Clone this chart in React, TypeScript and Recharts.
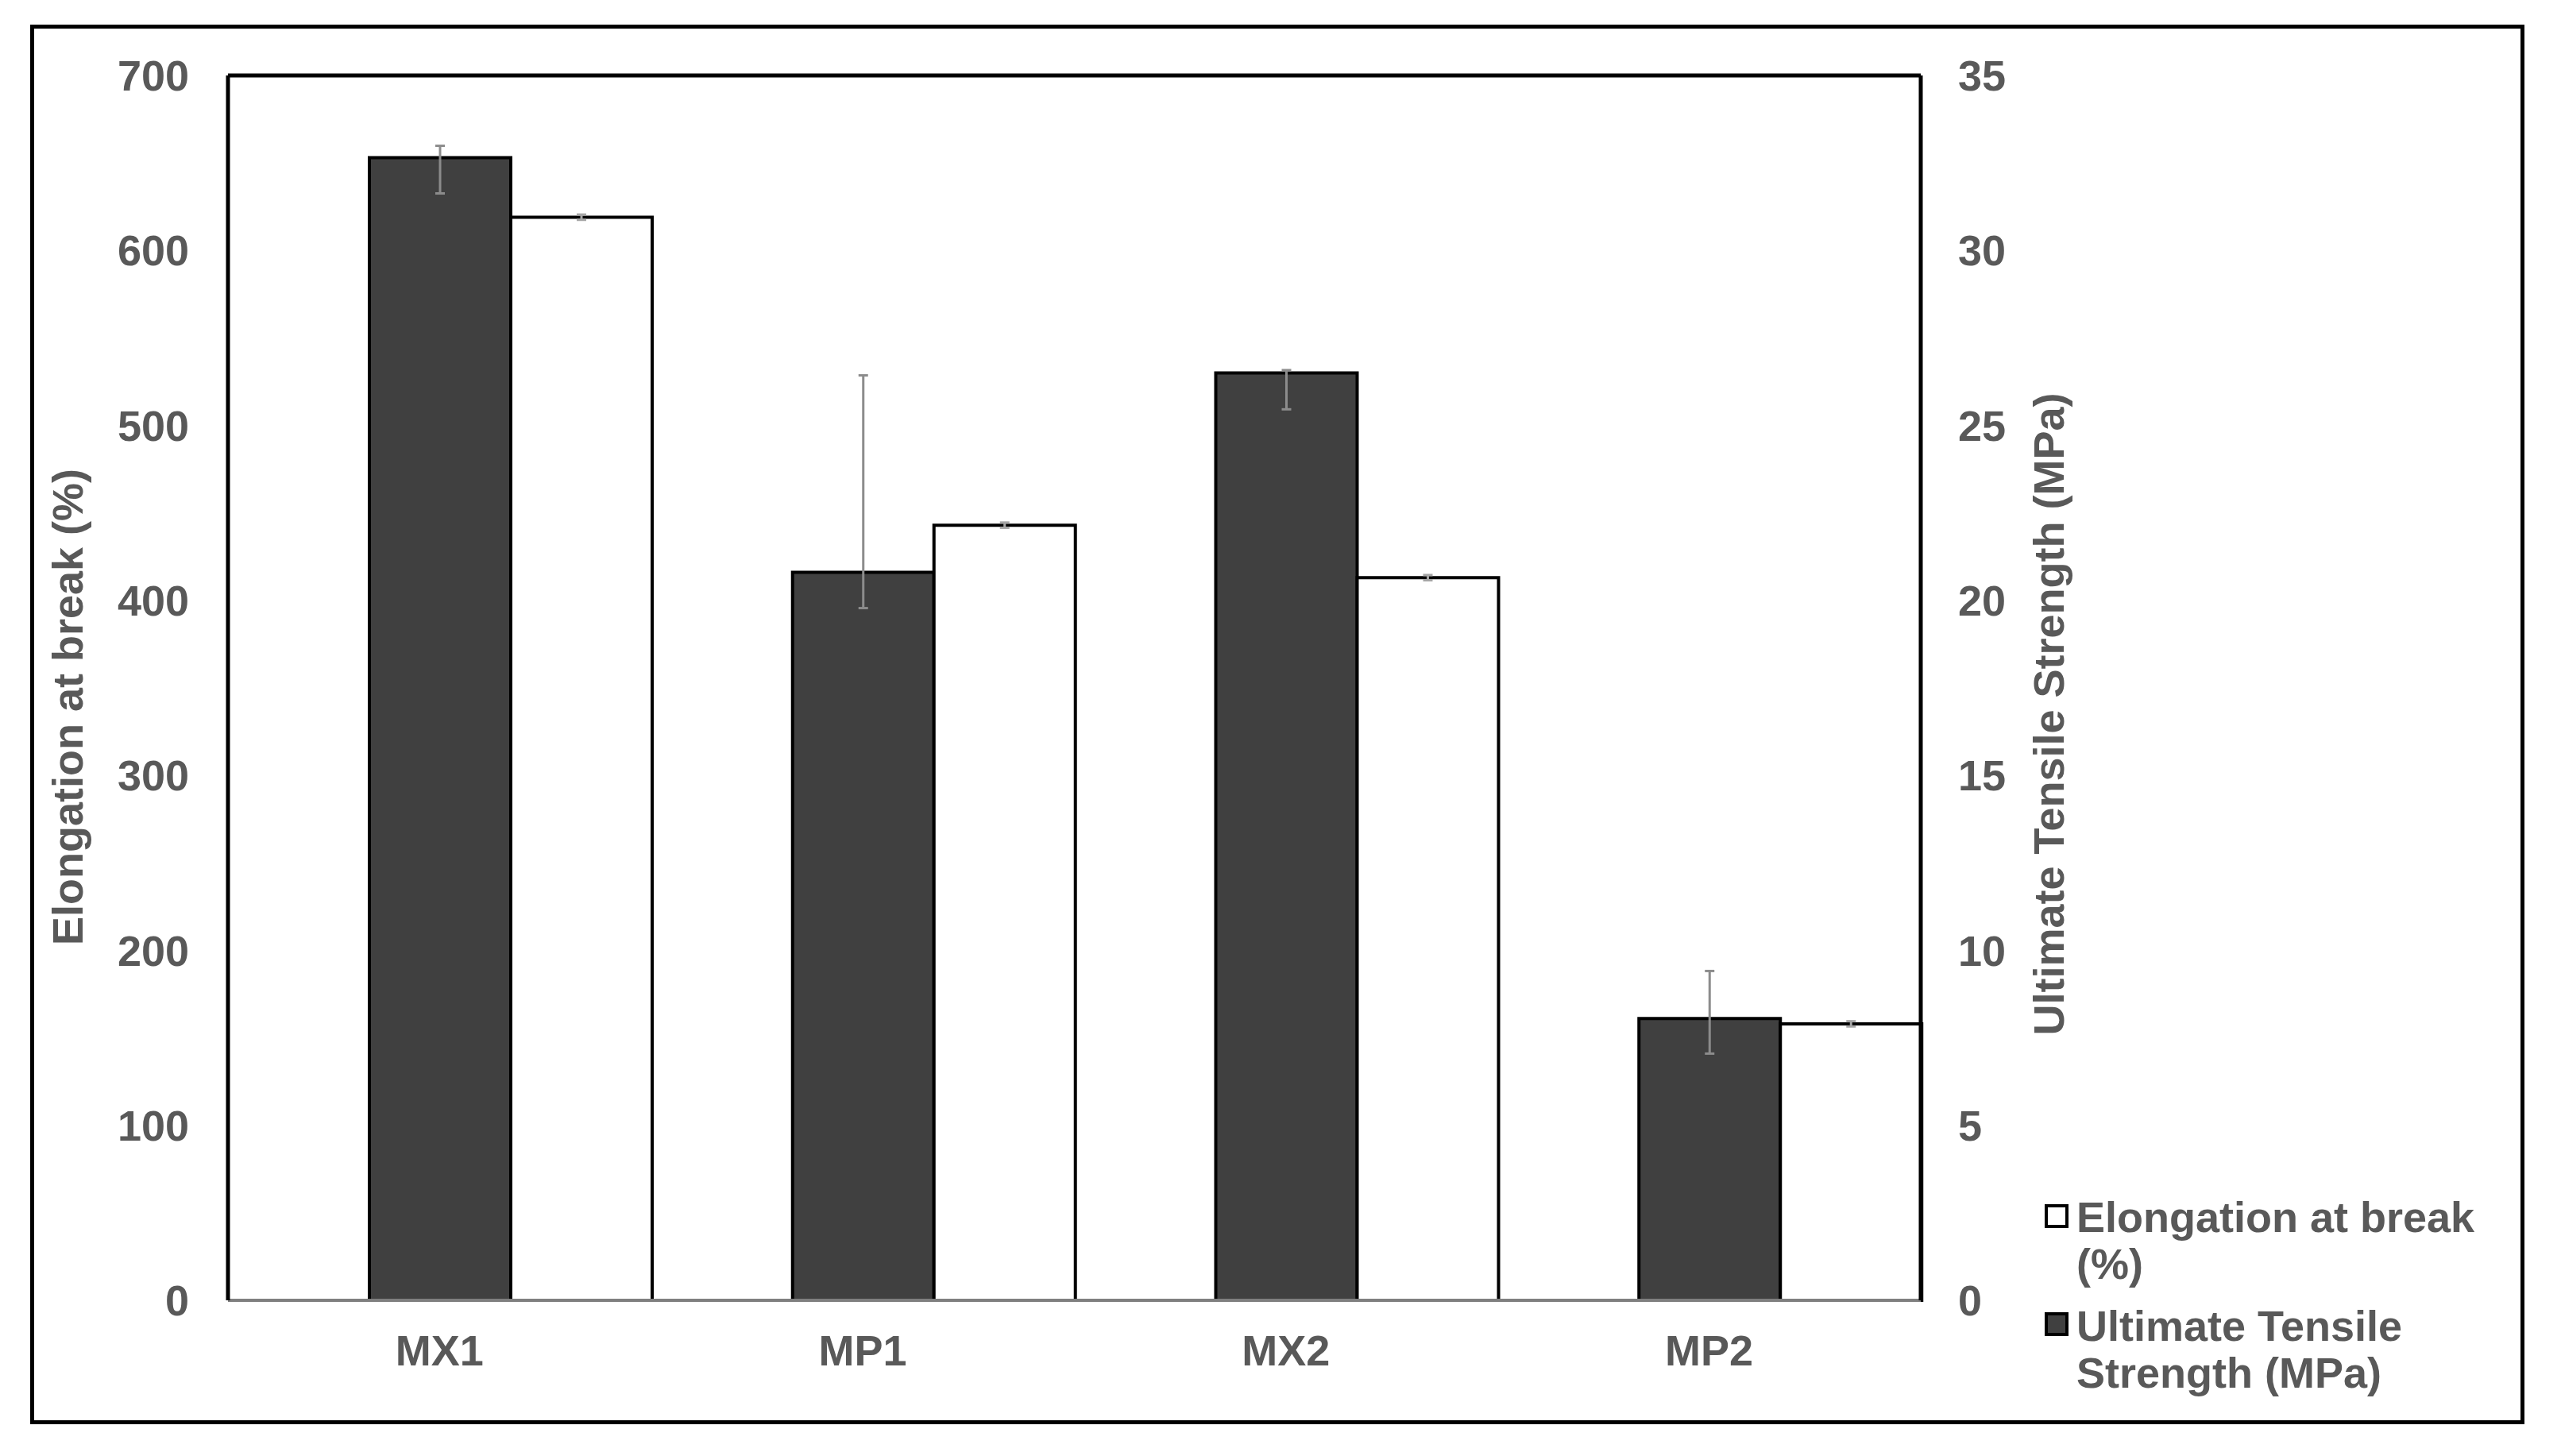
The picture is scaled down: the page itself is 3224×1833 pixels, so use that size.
import React from 'react';
import { BarChart, Bar, XAxis, YAxis, ErrorBar, ReferenceLine, Label } from 'recharts';

const categories = ['MX1', 'MP1', 'MX2', 'MP2'];
const elongation = [619, 443, 413, 158];
const elongationErr = [1.5, 1.5, 1.5, 1.5];
const uts = [32.65, 20.8, 26.5, 8.05];
const utsErrDown = [1.02, 1.02, 1.04, 1.0];
const utsErrUp = [0.34, 5.63, 0.08, 1.36];
const leftTicks = [0, 100, 200, 300, 400, 500, 600, 700];
const rightTicks = [0, 5, 10, 15, 20, 25, 30, 35];

const data = categories.map((name, i) => ({
    name,
    gap: null,
    uts: uts[i],
    utsErr: [utsErrDown[i], utsErrUp[i]],
    elongation: elongation[i],
    elongationErr: elongationErr[i],
}));

const TEXT = '#595959';
const FONT = '"Liberation Sans", Arial, sans-serif';
const tickStyle = { fill: TEXT, fontSize: 54, fontWeight: 700, fontFamily: FONT };

const AxisTitle = ({ viewBox, text, dx, dy }: any) => {
    const vb = viewBox || { x: 0, y: 0, width: 0, height: 0 };
    const x = vb.x + dx;
    const y = vb.y + vb.height / 2 + dy;
    return (
        <text
            x={x}
            y={y}
            transform={`rotate(-90, ${x}, ${y})`}
            textAnchor="middle"
            fill={TEXT}
            fontSize={54}
            fontWeight={700}
            fontFamily={FONT}
        >
            {text}
        </text>
    );
};

const legendText: React.CSSProperties = {
    position: 'absolute',
    left: 2606,
    color: TEXT,
    fontSize: 54,
    fontWeight: 700,
    fontFamily: FONT,
    lineHeight: '59px',
    whiteSpace: 'nowrap',
};

const marker: React.CSSProperties = {
    position: 'absolute',
    left: 2566,
    width: 30,
    height: 30,
    boxSizing: 'border-box',
    border: '4px solid #000',
};

export default function App() {
    return (
        <div style={{ position: 'relative', width: 3208, height: 1817, fontFamily: FONT }}>
            {/* outer frame */}
            <div
                style={{
                    position: 'absolute',
                    left: 30,
                    top: 23,
                    width: 3140,
                    height: 1762,
                    boxSizing: 'border-box',
                    border: '5px solid #000',
                }}
            />

            <div style={{ position: 'absolute', left: 0, top: 0 }}>
                <BarChart
                    width={3208}
                    height={1817}
                    data={data}
                    margin={{ top: 87, right: 598, bottom: 68, left: 79 }}
                    barCategoryGap={0}
                    barGap={0}
                >
                    <XAxis
                        dataKey="name"
                        height={120}
                        tickLine={false}
                        tickSize={0}
                        tickMargin={44}
                        axisLine={{ stroke: '#7f7f7f', strokeWidth: 4 }}
                        tick={tickStyle}
                    />
                    <YAxis
                        yAxisId="left"
                        orientation="left"
                        width={200}
                        domain={[0, 700]}
                        ticks={leftTicks}
                        tickLine={false}
                        tickSize={0}
                        tickMargin={49}
                        axisLine={{ stroke: '#000', strokeWidth: 5 }}
                        tick={tickStyle}
                        label={<Label content={(p: any) => <AxisTitle {...p} text="Elongation at break (%)" dx={17} dy={24} />} />}
                    />
                    <YAxis
                        yAxisId="right"
                        orientation="right"
                        width={200}
                        domain={[0, 35]}
                        ticks={rightTicks}
                        tickLine={false}
                        tickSize={0}
                        tickMargin={47}
                        axisLine={{ stroke: '#000', strokeWidth: 5 }}
                        tick={{ ...tickStyle, textAnchor: 'start' }}
                        label={<Label content={(p: any) => <AxisTitle {...p} text="Ultimate Tensile Strength (MPa)" dx={180} dy={33} />} />}
                    />
                    <ReferenceLine yAxisId="left" y={700} stroke="#000" strokeWidth={5} />

                    {/* empty slot so the dark bar sits on the category centre */}
                    <Bar yAxisId="left" dataKey="gap" fill="none" legendType="none" isAnimationActive={false} />
                    <Bar
                        yAxisId="right"
                        dataKey="uts"
                        name="Ultimate Tensile Strength (MPa)"
                        fill="#404040"
                        stroke="#000"
                        strokeWidth={4}
                        isAnimationActive={false}
                    >
                        <ErrorBar dataKey="utsErr" stroke="#8c8c8c" strokeWidth={3} width={6} direction="y" />
                    </Bar>
                    <Bar
                        yAxisId="left"
                        dataKey="elongation"
                        name="Elongation at break (%)"
                        fill="#ffffff"
                        stroke="#000"
                        strokeWidth={4}
                        isAnimationActive={false}
                    >
                        <ErrorBar dataKey="elongationErr" stroke="#a6a6a6" strokeWidth={3} width={6} direction="y" />
                    </Bar>
                </BarChart>
            </div>

            {/* legend */}
            <div style={{ ...marker, top: 1508, background: '#fff' }} />
            <div style={{ ...legendText, top: 1495 }}>
                Elongation at break
                <br />
                (%)
            </div>
            <div style={{ ...marker, top: 1644, background: '#404040' }} />
            <div style={{ ...legendText, top: 1632 }}>
                Ultimate Tensile
                <br />
                Strength (MPa)
            </div>
        </div>
    );
}
